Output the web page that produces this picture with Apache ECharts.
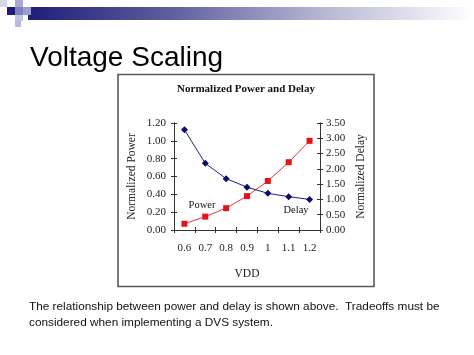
<!DOCTYPE html>
<html><head><meta charset="utf-8">
<script src="https://cdn.jsdelivr.net/npm/echarts@6/dist/echarts.min.js"></script>
<style>html,body{margin:0;padding:0;background:#fff;}#c{width:474px;height:355px;}</style>
</head><body><div id="c"></div>
<script>
var categories = ['0.6', '0.7', '0.8', '0.9', '1', '1.1', '1.2'];
var powerValues = [0.07, 0.15, 0.245, 0.38, 0.55, 0.76, 1.00];
var delayValues = [3.28, 2.18, 1.68, 1.40, 1.20, 1.09, 1.00];
var leftAxis = {min: 0, max: 1.2, interval: 0.2};
var rightAxis = {min: 0, max: 3.5, interval: 0.5};

var serif = '"Liberation Serif", "Times New Roman", serif';
var sans = '"Liberation Sans", Arial, sans-serif';
var axisCol = '#333';
var chart = echarts.init(document.getElementById('c'), null, {renderer: 'canvas'});

function yAx(pos, cfg, name, withLabels, inside) {
  return {
    type: 'value', position: pos, min: cfg.min, max: cfg.max, interval: cfg.interval,
    name: withLabels ? name : '', nameLocation: 'middle', nameRotate: 90,
    nameGap: pos === 'left' ? 36 : 35,
    nameTextStyle: {fontFamily: serif, fontSize: 11.5, color: '#222'},
    axisLine: {show: true, lineStyle: {color: axisCol, width: 1}},
    axisTick: {show: true, inside: inside, length: 3, lineStyle: {color: axisCol}},
    axisLabel: {show: withLabels, fontFamily: serif, fontSize: 11, color: '#222',
      margin: pos === 'left' ? 8 : 6, formatter: function (v) { return v.toFixed(2); }},
    splitLine: {show: false}
  };
}
function xAx(withLabels, inside) {
  return {
    type: 'category', data: categories, boundaryGap: true, position: 'bottom',
    name: withLabels ? 'VDD' : '', nameLocation: 'middle', nameGap: 38,
    nameTextStyle: {fontFamily: serif, fontSize: 11.5, color: '#222'},
    axisLine: {show: true, lineStyle: {color: axisCol, width: 1}},
    axisTick: {show: true, inside: inside, length: 3, alignWithLabel: false, lineStyle: {color: axisCol}},
    axisLabel: {show: withLabels, fontFamily: serif, fontSize: 11, color: '#222', margin: 13},
    splitLine: {show: false}
  };
}

var sq = [[7,7,8,8,'#1c1c78'],[15,0,8,7,'#a8a8d4'],[0,0,7,7,'#d8d8ec'],[15,7,8,8,'#8080bc'],[15,15,8,6,'#c4c4e2'],[15,21,6,6,'#b8b8dc'],[23,7,8,8,'#9c9cd0']];
var graphics = [
  {type: 'rect', shape: {x: 28, y: 7, width: 446, height: 13}, z: 0,
   style: {fill: new echarts.graphic.LinearGradient(0, 0, 1, 0, [
     {offset: 0, color: '#1e1e78'}, {offset: 0.3, color: '#5a5a9c'},
     {offset: 0.65, color: '#b4b4d2'}, {offset: 1, color: '#ffffff'}])}}
];
sq.forEach(function (s) {
  graphics.push({type: 'rect', shape: {x: s[0], y: s[1], width: s[2], height: s[3]}, style: {fill: s[4]}, z: 1});
});
graphics.push(
  {type: 'text', left: 30, top: 44, style: {text: 'Voltage Scaling', font: '28px ' + sans, fill: '#000'}},
  {type: 'rect', shape: {x: 118, y: 74.5, width: 256, height: 212}, style: {fill: 'none', stroke: '#5a5a5a', lineWidth: 1.6}},
  {type: 'text', x: 246, y: 89, style: {text: 'Normalized Power and Delay', font: 'bold 11px ' + serif, fill: '#111', textAlign: 'center', textVerticalAlign: 'middle'}},
  {type: 'text', x: 202, y: 205, style: {text: 'Power', font: '10.5px ' + serif, fill: '#111', textAlign: 'center', textVerticalAlign: 'middle'}},
  {type: 'text', x: 296, y: 210, style: {text: 'Delay', font: '10.5px ' + serif, fill: '#111', textAlign: 'center', textVerticalAlign: 'middle'}},
  {type: 'text', left: 29, top: 299, style: {text: 'The relationship between power and delay is shown above.  Tradeoffs must be\nconsidered when implementing a DVS system.', font: '11.8px ' + sans, fill: '#111', lineHeight: 16}}
);

chart.setOption({
  backgroundColor: '#fff',
  animation: false,
  grid: {left: 174, top: 123, width: 146, height: 107, containLabel: false},
  xAxis: [xAx(true, false), xAx(false, true)],
  yAxis: [
    yAx('left', leftAxis, 'Normalized Power', true, false),
    yAx('right', rightAxis, 'Normalized Delay', true, false),
    yAx('left', leftAxis, '', false, true),
    yAx('right', rightAxis, '', false, true)
  ],
  series: [
    {name: 'Power', type: 'line', xAxisIndex: 0, yAxisIndex: 0, data: powerValues,
     symbol: 'rect', symbolSize: 6, itemStyle: {color: '#e2131b'},
     lineStyle: {color: '#e4333a', width: 1}, z: 3},
    {name: 'Delay', type: 'line', xAxisIndex: 0, yAxisIndex: 1, data: delayValues,
     symbol: 'diamond', symbolSize: 7, itemStyle: {color: '#0a0a70'},
     lineStyle: {color: '#1f1f80', width: 1}, z: 3}
  ],
  graphic: graphics
});
</script>
</body></html>
